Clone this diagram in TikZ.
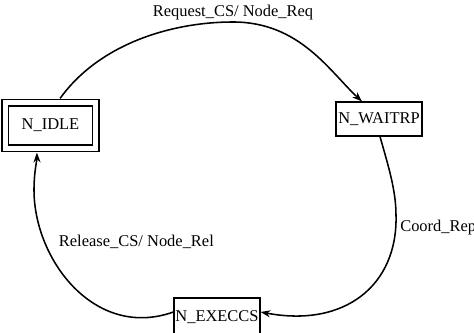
\documentclass[tikz,border=0pt]{standalone}
\usepackage{fontspec}
\setmainfont{Liberation Serif}
\usetikzlibrary{arrows.meta}
\begin{document}
\begin{tikzpicture}[
state/.style={draw, line width=0.8pt, inner sep=0pt, minimum width=2.15cm, minimum height=0.9cm, font=\fontsize{11.7}{14}\selectfont},
lbl/.style={inner sep=0pt, font=\fontsize{11.7}{14}\selectfont},
trans/.style={line width=1.1pt, -{Stealth[length=7pt,width=5pt]}}
]
\useasboundingbox (0,0) rectangle (11.85,8.325);
\node[state, double, double distance=3.6pt, line width=1pt, minimum width=2.26cm, minimum height=1.14cm] (idle) at (1.2625,5.1875) {N\_IDLE};
\node[state, minimum height=0.85cm] (wait) at (9.475,5.35) {N\_WAITRP};
\node[state, minimum height=0.95cm] (exec) at (5.425,0.4) {N\_EXECCS};

\node[lbl] (req) at (5.825,8.0) {Request\_CS/ Node\_Req};
\node[lbl, anchor=west] (rep) at (10.0,2.625) {Coord\_Rep};
\node[lbl] (rel) at (3.41,2.275) {Release\_CS/ Node\_Rel};

\draw[trans] ([xshift=2.4mm,yshift=0.9mm]idle.north) .. controls (2.5,7.25) and (4.325,7.775) .. (5.825,7.775)
.. controls (7.5,7.775) and (8.25,6.525) .. ([xshift=-4.25mm]wait.north);
\draw[trans] ([xshift=0.25mm]wait.south) .. controls (9.7,4.2) and (9.9,3.575) .. (9.9,2.95)
.. controls (9.95,1.2) and (8.625,0.125) .. ([yshift=1.25mm]exec.east);
\draw[trans] ([yshift=1.25mm]exec.west) .. controls (2.375,-0.175) and (0.85,1.825) .. (0.85,3.575)
.. controls (0.85,4.025) and (0.925,4.325) .. ([xshift=-3.4mm,yshift=-0.9mm]idle.south);
\end{tikzpicture}
\end{document}
